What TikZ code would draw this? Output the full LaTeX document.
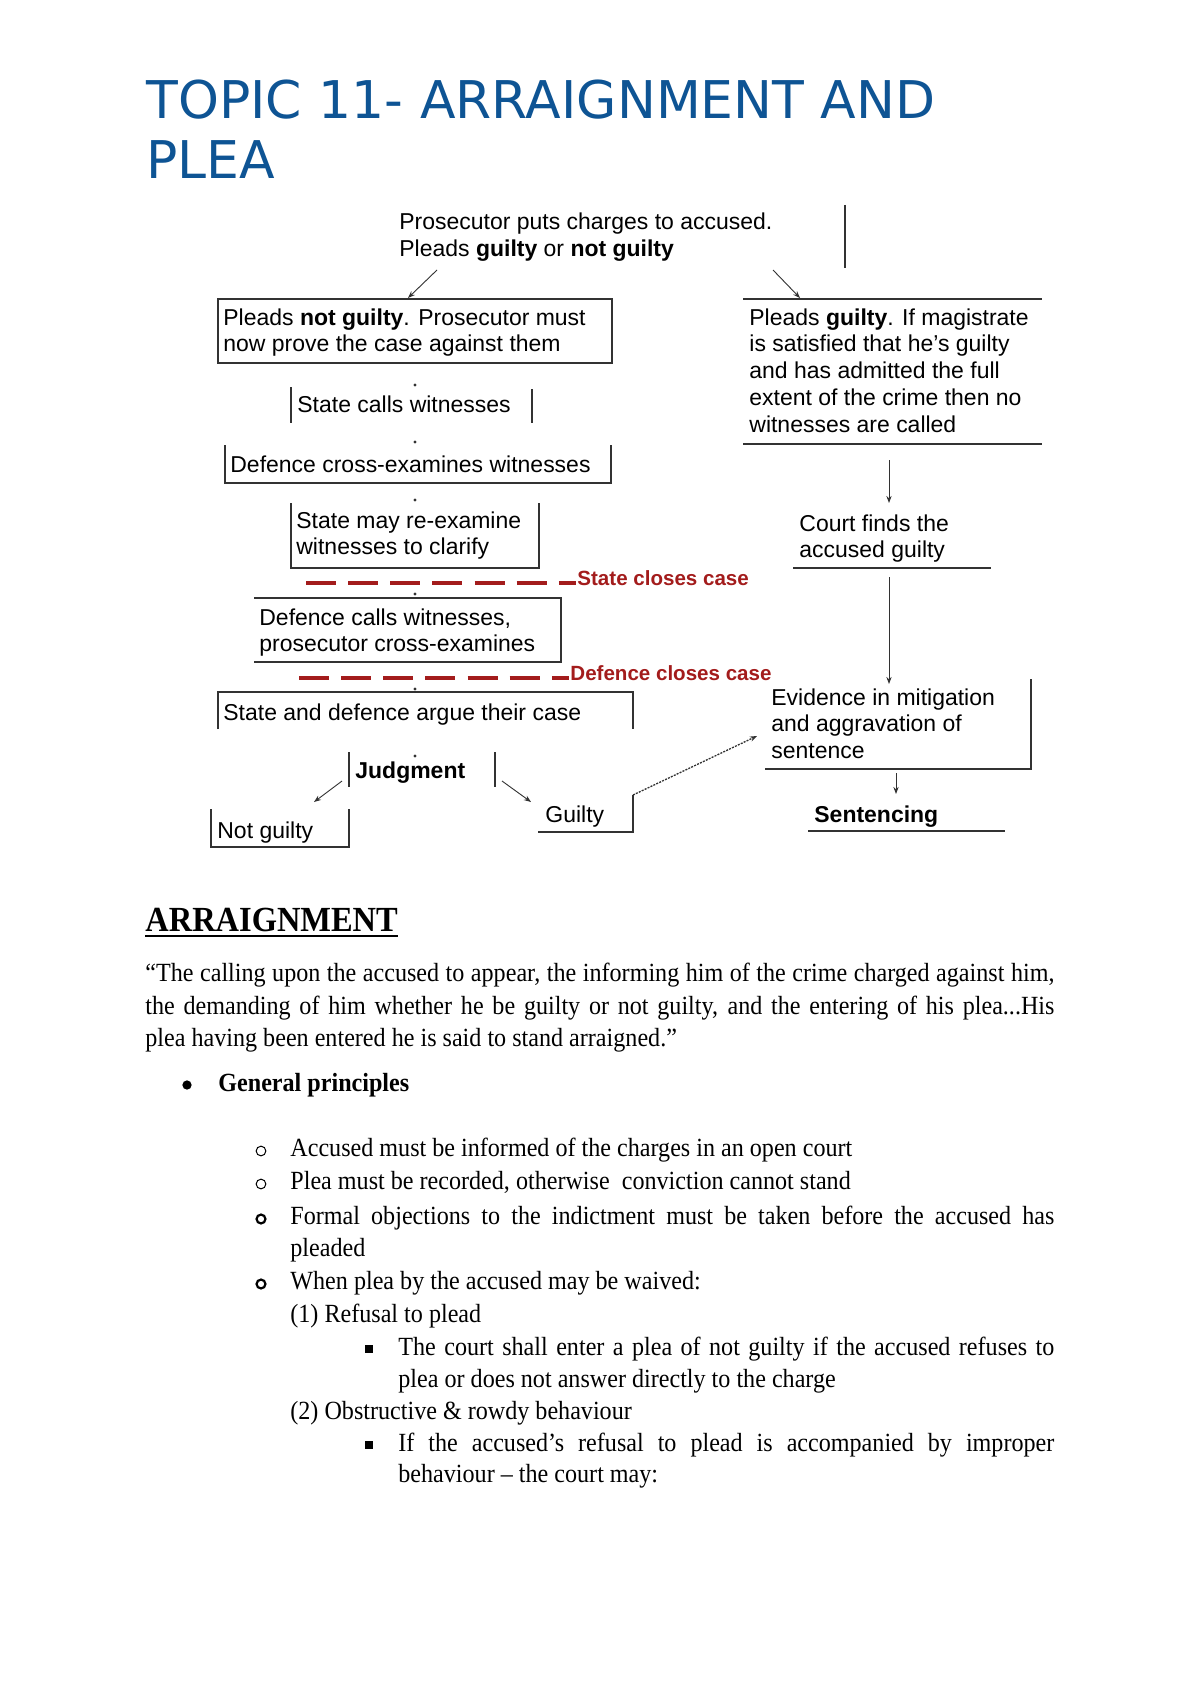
\documentclass[tikz,border=0pt]{standalone}
\usepackage{fontspec}
\usetikzlibrary{arrows.meta}
\newfontfamily\arial{Liberation Sans}
\newfontfamily\titlefont{DejaVu Sans}
\newfontfamily\bodyfont[FakeStretch=0.92]{Liberation Serif}
\definecolor{titleblue}{RGB}{14,84,148}
\definecolor{darkred}{RGB}{163,28,28}
\definecolor{lineg}{RGB}{50,50,50}
\newcommand\ml[1]{\begin{tabular}[t]{@{}l@{}}#1\end{tabular}}
\begin{document}
\begin{tikzpicture}[x=0.4961pt,y=-0.4961pt,
  ft/.style={font=\arial\fontsize{11.4pt}{13.35pt}\selectfont, anchor=base west, inner sep=0pt},
  cl/.style={font=\arial\bfseries\fontsize{10.2pt}{12pt}\selectfont, anchor=base west, inner sep=0pt, text=darkred},
  bx/.style={draw=lineg, line width=0.7pt},
  arr/.style={draw=lineg, line width=0.45pt, -{Stealth[length=3.5pt,width=2.6pt]}},
  dsh/.style={draw=darkred, line width=1.5pt, dash pattern=on 14.9pt off 6pt},
  bd/.style={font=\bodyfont\fontsize{13pt}{16pt}\selectfont, anchor=base west, inner sep=0pt},
  ttl/.style={font=\titlefont\fontsize{25.8pt}{30pt}\selectfont, text=titleblue, anchor=base west, inner sep=0pt},
  dotm/.style={fill=lineg, circle, inner sep=0pt, minimum size=1.6pt},
]
\fill[white] (0,0) rectangle (1200,1696);
\useasboundingbox (0,0) rectangle (1200,1696);

% Title
\node[ttl] (t1) at (146,119) {TOPIC 11- ARRAIGNMENT AND};
\node[ttl] (t2) at (146,179) {PLEA};

% ---------- Flowchart ----------
\node[ft] (pros) at (399,230) {\ml{Prosecutor puts charges to accused.\\Pleads \textbf{guilty} or \textbf{not guilty}}};
\draw[bx] (845,205) -- (845,268);

\coordinate (a1s) at (437,270); \coordinate (a1e) at (408,298);
\coordinate (a2s) at (773,270); \coordinate (a2e) at (800,298);
\draw[arr] (a1s) -- (a1e);
\draw[arr] (a2s) -- (a2e);

% Not guilty box
\draw[bx] (218,299) rectangle (612,363);
\node[ft] (ng) at (223,325) {\ml{Pleads \textbf{not guilty}. Prosecutor must\\now prove the case against them}};

% Guilty box
\draw[bx] (743,299) -- (1042,299);
\draw[bx] (743,444) -- (1042,444);
\node[ft] (gp) at (749,325) {\ml{Pleads \textbf{guilty}. If magistrate\\is satisfied that he’s guilty\\and has admitted the full\\extent of the crime then no\\witnesses are called}};

% State calls witnesses
\node[dotm] (d1) at (415,385) {};
\draw[bx] (291,387) -- (291,423);
\draw[bx] (532,389) -- (532,423);
\node[ft] (scw) at (297,412) {State calls witnesses};

% Defence cross-examines
\node[dotm] (d2) at (415,442) {};
\draw[bx] (225,445) -- (225,483) -- (611,483) -- (611,445);
\node[ft] (dcx) at (230,472) {Defence cross-examines witnesses};

% State may re-examine
\node[dotm] (d3) at (415,500) {};
\draw[bx] (291,503) -- (291,568) -- (539,568) -- (539,503);
\node[ft] (sre) at (296,528) {\ml{State may re-examine\\witnesses to clarify}};

% State closes case
\draw[dsh] (306,583) -- (576,583);
\node[cl] (scc) at (577,585) {State closes case};

% Defence calls witnesses
\node[dotm] (d4) at (415,594) {};
\draw[bx] (254,598) -- (561,598) -- (561,662) -- (254,662);
\node[ft] (dcw) at (259,625) {\ml{Defence calls witnesses,\\prosecutor cross-examines}};

% Defence closes case
\draw[dsh] (299,678) -- (569,678);
\node[cl] (dcc) at (570,680) {Defence closes case};

% State and defence argue
\node[dotm] (d5) at (415,689) {};
\draw[bx] (218,729) -- (218,692) -- (633,692) -- (633,729);
\node[ft] (sda) at (223,720) {State and defence argue their case};

% Judgment
\node[dotm] (d6) at (415,756) {};
\draw[bx] (349,752) -- (349,787);
\draw[bx] (495,752) -- (495,787);
\node[ft] (jdg) at (355,778) {\textbf{Judgment}};

\coordinate (a3s) at (342,781); \coordinate (a3e) at (314,802);
\coordinate (a4s) at (502,781); \coordinate (a4e) at (531,802);
\draw[arr] (a3s) -- (a3e);
\draw[arr] (a4s) -- (a4e);

% Not guilty
\draw[bx] (211,809) -- (211,847) -- (349,847) -- (349,809);
\node[ft] (ngv) at (217,838) {Not guilty};

% Guilty
\draw[bx] (538,832) -- (633,832) -- (633,795);
\node[ft] (gv) at (545,822) {Guilty};
\coordinate (a5s) at (633,795); \coordinate (a5e) at (757,736);
\draw[arr, line width=0.65pt, dash pattern=on 1pt off 0.6pt] (a5s) -- (a5e);

% Right column
\coordinate (a6s) at (889,460); \coordinate (a6e) at (889,503);
\draw[arr] (a6s) -- (a6e);
\node[ft] (cfg) at (799,531) {\ml{Court finds the\\accused guilty}};
\draw[bx] (793,568) -- (991,568);

\coordinate (a7s) at (889,577); \coordinate (a7e) at (889,684);
\draw[arr] (a7s) -- (a7e);

\node[ft, font=\arial\fontsize{11.4pt}{13.2pt}\selectfont] (evm) at (771,705) {\ml{Evidence in mitigation\\and aggravation of\\sentence}};
\draw[bx] (1031,679) -- (1031,769) -- (765,769);

\coordinate (a8s) at (896,773); \coordinate (a8e) at (896,794);
\draw[arr] (a8s) -- (a8e);
\node[ft] (snt) at (814,822) {\textbf{Sentencing}};
\draw[bx] (808,831) -- (1005,831);

% ---------- Body text ----------
\node[bd, font=\bodyfont\bfseries\fontsize{17.5pt}{20pt}\selectfont] (arr) at (145,931) {ARRAIGNMENT};
\draw[line width=1.1pt] ([yshift=-2.2pt]arr.south west) -- ([yshift=-2.2pt]arr.south east);

\node[bd] (p1) at (145,981) {\makebox[450.96pt][s]{“The calling upon the accused to appear, the informing him of the crime charged against him,}};
\node[bd] (p2) at (145,1014) {\makebox[450.96pt][s]{the demanding of him whether he be guilty or not guilty, and the entering of his plea...His}};
\node[bd] (p3) at (145,1046) {plea having been entered he is said to stand arraigned.”};

\fill (187,1085) circle[radius=2.3pt];
\node[bd] (gen) at (218,1091) {\textbf{General principles}};

\draw[line width=0.5pt] (261,1151) circle[radius=2.4pt];
\node[bd] (b1) at (290,1156) {Accused must be informed of the charges in an open court};
\draw[line width=0.5pt] (261,1184) circle[radius=2.4pt];
\node[bd] (b2) at (290,1189) {Plea must be recorded, otherwise\ \ conviction cannot stand};
\draw[line width=1.1pt] (261,1219) circle[radius=2.2pt];
\node[bd] (b3) at (290,1224) {\makebox[379.0pt][s]{Formal objections to the indictment must be taken before the accused has}};
\node[bd] (b3b) at (290,1256) {pleaded};
\draw[line width=1.1pt] (261,1284) circle[radius=2.2pt];
\node[bd] (b4) at (290,1289) {When plea by the accused may be waived:};
\node[bd] (r1) at (290,1322) {(1) Refusal to plead};
\fill (365,1345) rectangle (373,1353);
\node[bd] (s1) at (398,1355) {\makebox[325.4pt][s]{The court shall enter a plea of not guilty if the accused refuses to}};
\node[bd] (s1b) at (398,1387) {plea or does not answer directly to the charge};
\node[bd] (r2) at (290,1419) {(2) Obstructive \& rowdy behaviour};
\fill (365,1441) rectangle (373,1449);
\node[bd] (s2) at (398,1451) {\makebox[325.4pt][s]{If the accused’s refusal to plead is accompanied by improper}};
\node[bd] (s2b) at (398,1482) {behaviour – the court may:};
\end{tikzpicture}
\end{document}
